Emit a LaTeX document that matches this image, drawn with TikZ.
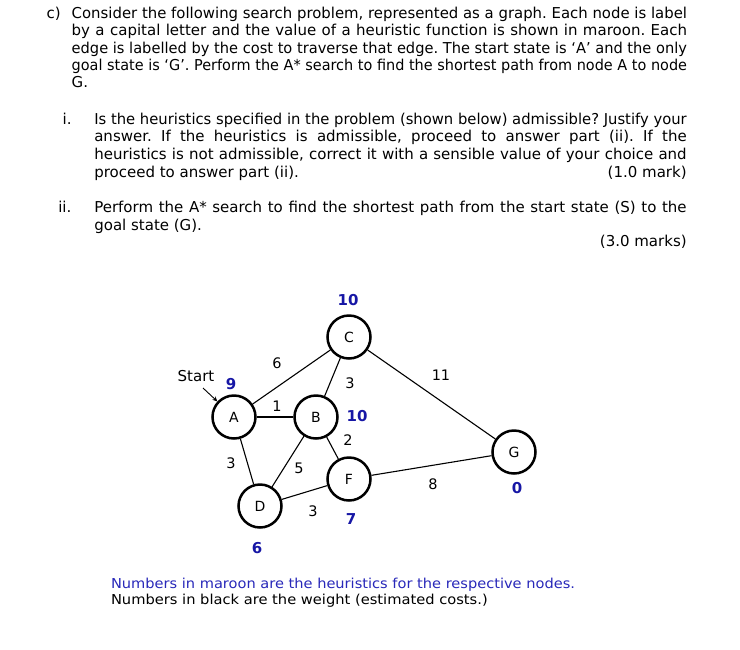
\documentclass[tikz,border=0pt]{standalone}
\usepackage{fontspec}
\usepackage{graphicx}
\setmainfont{DejaVu Sans}
\newfontfamily\parafont{DejaVu Sans}
\usetikzlibrary{arrows.meta}
\definecolor{heurblue}{RGB}{22,22,165}
\definecolor{noteblue}{RGB}{40,40,185}
\frenchspacing
\newsavebox\jlbox
\newcommand\jline[2]{\sbox\jlbox{#2}\ifdim\wd\jlbox>#1\relax\resizebox{#1}{\height}{\usebox\jlbox}\else\makebox[#1][s]{#2}\fi}
\begin{document}
\begin{tikzpicture}[x=1pt,y=-1pt,
  ptext/.style={anchor=base west, inner sep=0, outer sep=0, font=\parafont\fontsize{15}{18}\selectfont},
  pright/.style={anchor=base east, inner sep=0, outer sep=0, font=\parafont\fontsize{15}{18}\selectfont},
  note/.style={anchor=base west, inner sep=0, outer sep=0, font=\fontsize{13.7}{16}\selectfont},
  vert/.style={circle, draw, line width=2.5pt, minimum size=43pt, inner sep=0, font=\fontsize{14}{16}\selectfont},
  heur/.style={text=heurblue, inner sep=0, font=\bfseries\fontsize{15}{18}\selectfont},
  wt/.style={inner sep=0, font=\fontsize{14.5}{17}\selectfont},
  edgeline/.style={line width=1.1pt}]
\useasboundingbox (0,0) rectangle (740,649);
% paragraph c)
\node[ptext] (c) at (46.7,18.3) {c)};
\node[ptext] (p1) at (71.7,18.3) {\jline{615.3pt}{Consider the following search problem, represented as a graph. Each node is label}};
\node[ptext] (p2) at (71.7,35.9) {\jline{615.3pt}{by a capital letter and the value of a heuristic function is shown in maroon. Each}};
\node[ptext] (p3) at (71.7,53.4) {\jline{615.3pt}{edge is labelled by the cost to traverse that edge. The start state is ‘A’ and the only}};
\node[ptext] (p4) at (71.7,70.8) {\jline{615.3pt}{goal state is ‘G’. Perform the A* search to find the shortest path from node A to node}};
\node[ptext] (p5) at (71.7,87.5) {G.};
% part i
\node[ptext] (i) at (62.7,124.4) {i.};
\node[ptext] (q1) at (94.3,124.4) {\jline{592.4pt}{Is the heuristics specified in the problem (shown below) admissible? Justify your}};
\node[ptext] (q2) at (94.3,141.9) {\jline{592.4pt}{answer. If the heuristics is admissible, proceed to answer part (ii). If the}};
\node[ptext] (q3) at (94.3,159.4) {\jline{592.4pt}{heuristics is not admissible, correct it with a sensible value of your choice and}};
\node[ptext] (q4) at (94.3,177.2) {proceed to answer part (ii).};
\node[pright] (m1) at (686.7,177.2) {(1.0 mark)};
% part ii
\node[ptext] (ii) at (58.3,212.3) {ii.};
\node[ptext] (r1) at (94.3,212.3) {\jline{592.4pt}{Perform the A* search to find the shortest path from the start state (S) to the}};
\node[ptext] (r2) at (94.3,230) {goal state (G).};
\node[pright] (m2) at (686.7,246.7) {(3.0 marks)};
% graph
\node[vert] (A) at (234,417) {A};
\node[vert] (B) at (316,417) {B};
\node[vert] (C) at (349,337) {C};
\node[vert] (D) at (260,506) {D};
\node[vert] (F) at (349,479) {F};
\node[vert] (G) at (514,452) {G};
\draw[edgeline] (A) -- (C);
\draw[edgeline] (C) -- (B);
\draw[edgeline] (A) -- (B);
\draw[edgeline] (B) -- (F);
\draw[edgeline] (A) -- (D);
\draw[edgeline] (B) -- (D);
\draw[edgeline] (D) -- (F);
\draw[edgeline] (F) -- (G);
\draw[edgeline] (C) -- (G);
% weights
\node[wt] (wAC) at (277,363) {6};
\node[wt] (wCB) at (350,383) {3};
\node[wt] (wAB) at (277,406) {1};
\node[wt] (wBF) at (348,440) {2};
\node[wt] (wAD) at (231,463) {3};
\node[wt] (wBD) at (299,468) {5};
\node[wt] (wDF) at (313,511) {3};
\node[wt] (wCG) at (441,375) {11};
\node[wt] (wFG) at (433,484) {8};
% heuristics
\node[heur] (hC) at (348,300) {10};
\node[heur] (hA) at (231,384) {9};
\node[heur] (hB) at (357,416) {10};
\node[heur] (hD) at (257,548) {6};
\node[heur] (hF) at (351,519) {7};
\node[heur] (hG) at (517,488) {0};
% start
\node[inner sep=0, font=\fontsize{15}{18}\selectfont] (start) at (196,376) {Start};
\coordinate (st) at (203,388);
\draw[line width=0.9pt, -{Stealth[length=5pt,width=4.5pt]}] (st) -- (A);
% notes
\node[note, text=noteblue] (n1) at (111,588.3) {\resizebox{464pt}{\height}{Numbers in maroon are the heuristics for the respective nodes.}};
\node[note] (n2) at (111,604.3) {\resizebox{376.7pt}{\height}{Numbers in black are the weight (estimated costs.)}};
\end{tikzpicture}
\end{document}
